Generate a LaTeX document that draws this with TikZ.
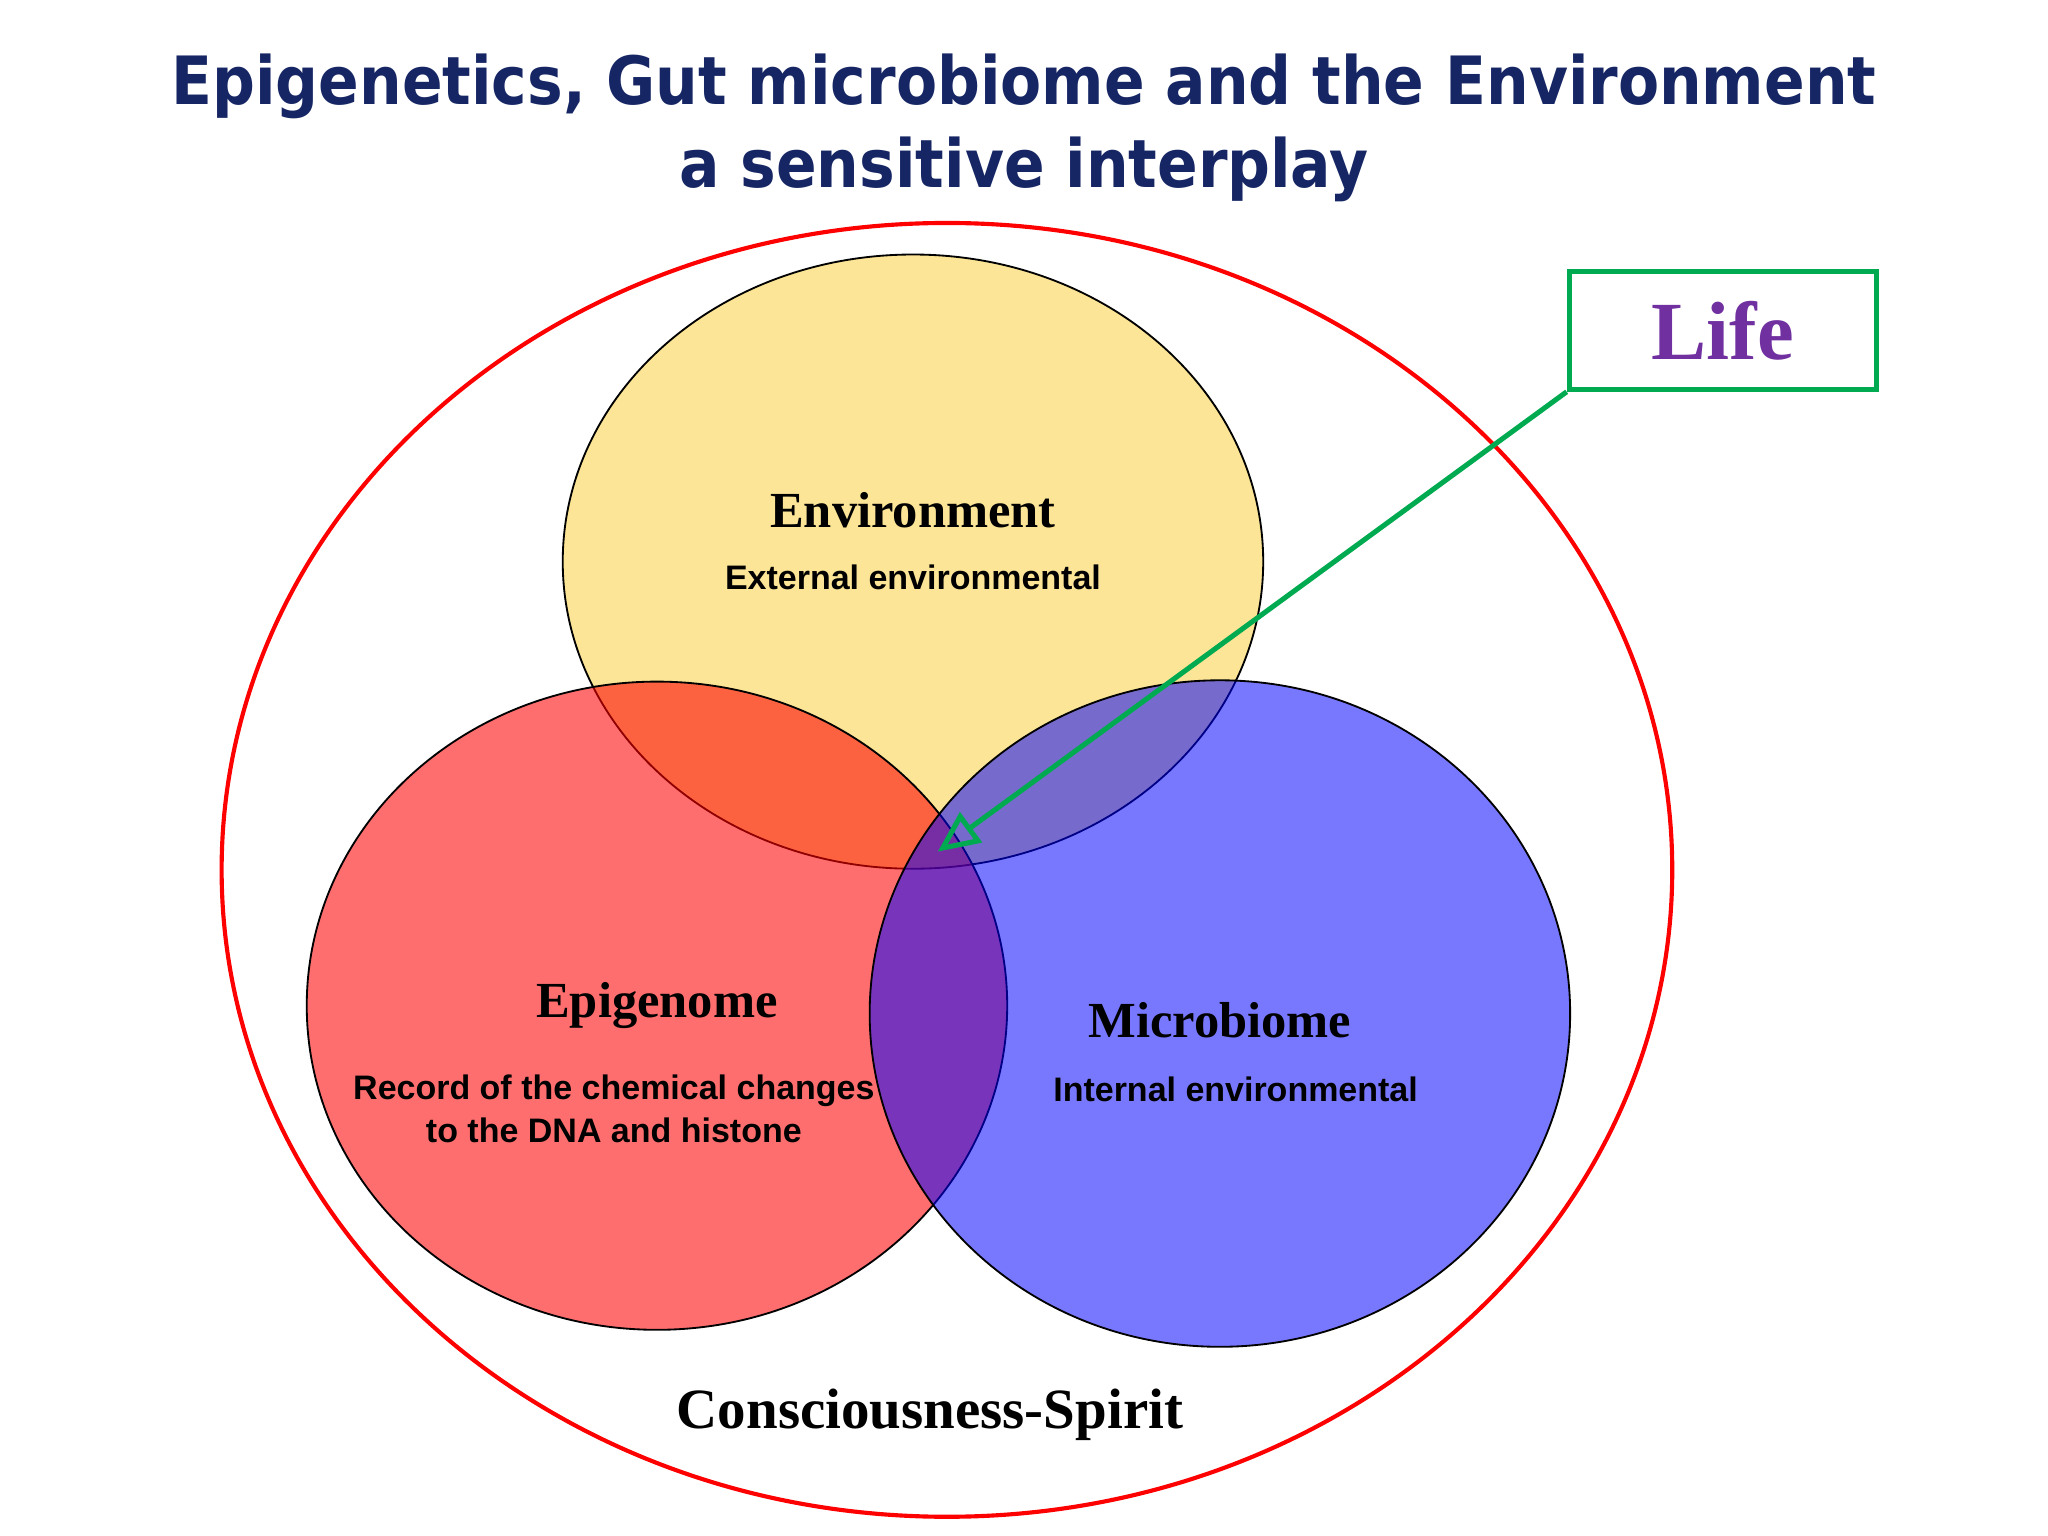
\documentclass[tikz,border=0pt]{standalone}
\usepackage{fontspec}
\setmainfont{Liberation Serif}
\setsansfont{Liberation Sans}
\newfontfamily\titlefont{DejaVu Sans Condensed}
\usetikzlibrary{arrows.meta,shapes.geometric,positioning}
\definecolor{titleblue}{RGB}{22,38,100}
\definecolor{envyellow}{RGB}{252,229,150}
\definecolor{lifegreen}{RGB}{0,170,80}
\definecolor{lifepurple}{RGB}{112,48,160}
\begin{document}
\begin{tikzpicture}[x=0.01cm, y=-0.01cm,
    set/.style = {draw, ellipse, thin, inner sep=0pt},
    head/.style = {font=\fontsize{11}{13}\selectfont\bfseries},
    sub/.style = {font=\fontsize{7.4}{9.4}\selectfont\sffamily\bfseries, align=center}]

    \useasboundingbox (0,0) rectangle (1568,1176);

    \node[font=\titlefont\fontsize{14.5}{18}\selectfont\bfseries, text=titleblue, align=center] (title) at (784, 98)
        {Epigenetics, Gut microbiome and the Environment\\a sensitive interplay};

    \node[ellipse, draw=red, line width=0.9pt, minimum width=11.1cm, minimum height=9.9cm] (spirit) at (725, 666) {};

    \node[set, fill=envyellow, minimum width=5.36cm, minimum height=4.7cm] (env) at (699, 430) {};
    \node[set, fill=red, fill opacity=0.57, minimum width=5.36cm, minimum height=4.96cm] (epi) at (503, 770) {};
    \node[set, fill=blue, fill opacity=0.53, minimum width=5.36cm, minimum height=5.1cm] (micro) at (934, 776) {};

    \node[head] (envlab) at (699, 391) {Environment};
    \node[sub] (envsub) at (699, 442) {External environmental};
    \node[head] (epilab) at (503, 770) {Epigenome};
    \node[sub] (episub) at (470, 849) {Record of the chemical changes\\to the DNA and histone};
    \node[head] (microlab) at (934, 781) {Microbiome};
    \node[sub] (microsub) at (946, 834) {Internal environmental};
    \node[font=\fontsize{12.4}{15}\selectfont\bfseries] (spiritlab) at (712, 1083) {Consciousness-Spirit};

    \node[draw=lifegreen, line width=1.1pt, minimum width=2.35cm, minimum height=0.9cm,
        text=lifepurple, font=\fontsize{18}{21}\selectfont\bfseries] (life) at (1319, 253) {Life};
    \coordinate (core) at (718, 652);
    \draw[lifegreen, line width=1.1pt, -{Triangle[open, length=9pt, width=8pt]}] (life.south west) -- (core);

\end{tikzpicture}
\end{document}
